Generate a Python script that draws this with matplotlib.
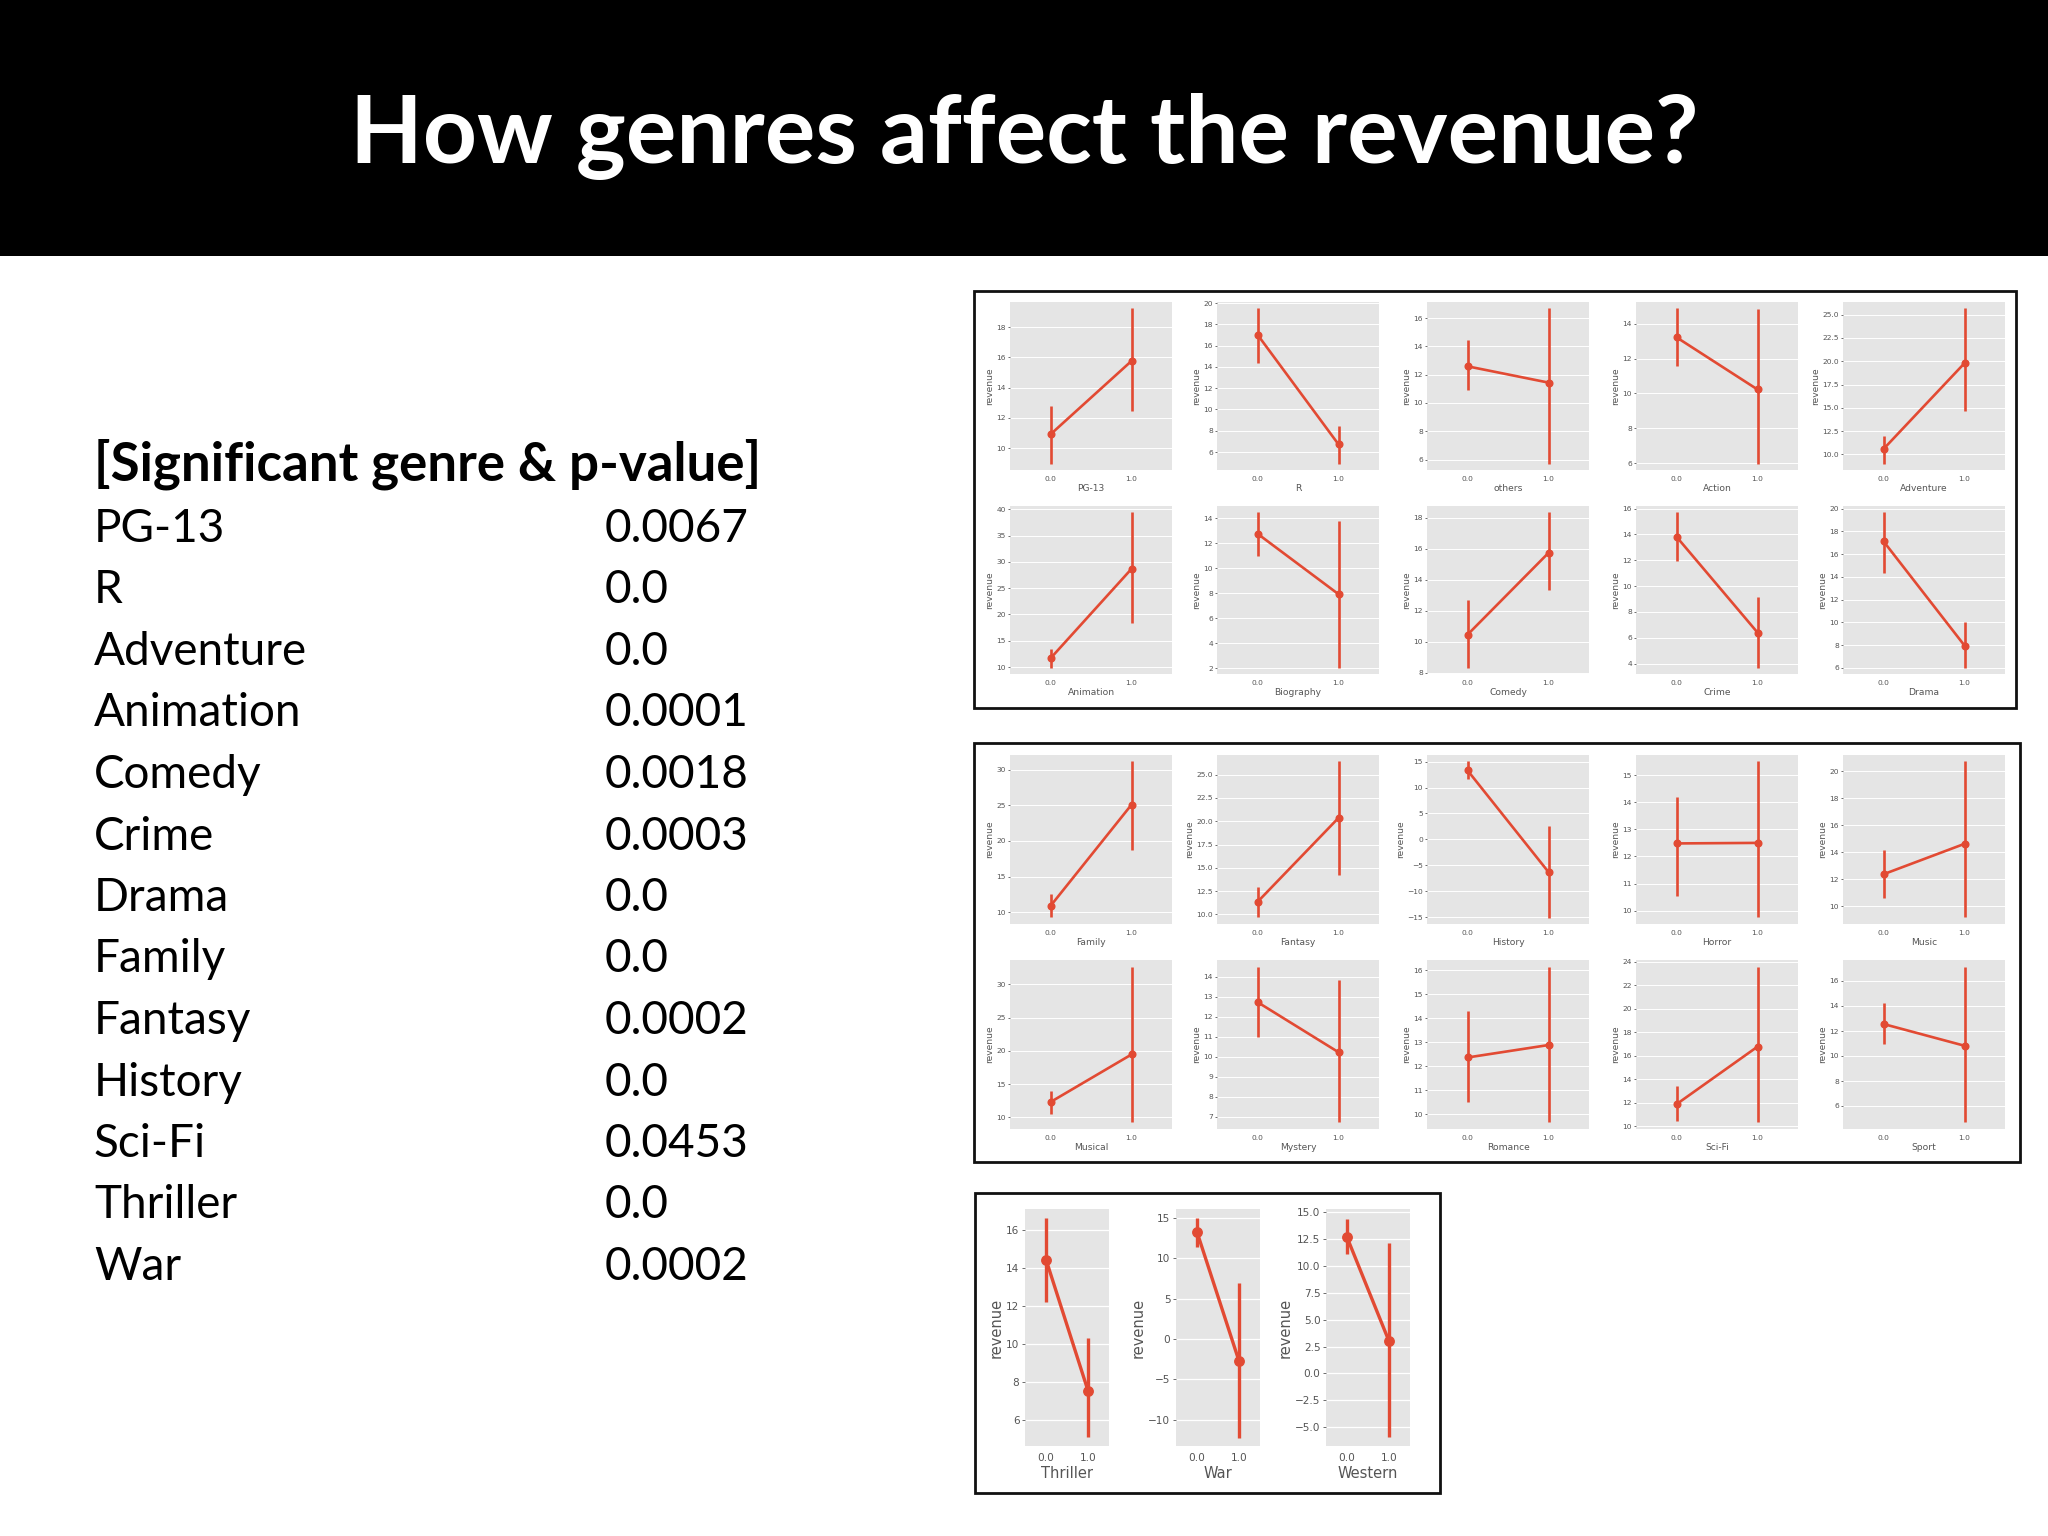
import matplotlib
matplotlib.use("Agg")
import matplotlib.pyplot as plt
from matplotlib.patches import Rectangle
from matplotlib.ticker import MultipleLocator

# ---------------- data ----------------
title = "How genres affect the revenue?"
table_header = "[Significant genre & p-value]"
sig_genres = ["PG-13", "R", "Adventure", "Animation", "Comedy", "Crime", "Drama",
              "Family", "Fantasy", "History", "Sci-Fi", "Thriller", "War"]
p_values = ["0.0067", "0.0", "0.0", "0.0001", "0.0018", "0.0003", "0.0",
            "0.0", "0.0002", "0.0", "0.0453", "0.0", "0.0002"]

genres = ["PG-13", "R", "others", "Action", "Adventure",
          "Animation", "Biography", "Comedy", "Crime", "Drama",
          "Family", "Fantasy", "History", "Horror", "Music",
          "Musical", "Mystery", "Romance", "Sci-Fi", "Sport",
          "Thriller", "War", "Western"]
mean_0 = [10.92, 17.03, 12.59, 13.23, 10.57, 11.65, 12.77, 10.45, 13.82, 17.13,
          10.89, 11.33, 13.32, 12.48, 12.37, 12.30, 12.73, 12.36, 11.86, 12.56,
          14.46, 13.23, 12.66]
ci0_low = [8.97, 14.38, 10.89, 11.57, 8.96, 9.81, 10.96, 8.30, 11.92, 14.37,
           9.30, 9.68, 11.58, 10.55, 10.59, 10.50, 10.97, 10.51, 10.42, 11.00,
           12.25, 11.35, 11.10]
ci0_high = [12.79, 19.53, 14.43, 14.92, 12.00, 13.42, 14.48, 12.71, 15.72, 19.68,
            12.62, 12.94, 15.13, 14.21, 14.17, 13.95, 14.50, 14.31, 13.42, 14.27,
            16.63, 14.92, 14.39]
mean_1 = [15.76, 6.72, 11.44, 10.23, 19.79, 28.67, 7.92, 15.74, 6.41, 7.97,
          25.09, 20.36, -6.32, 12.50, 14.62, 19.45, 10.23, 12.88, 16.76, 10.82,
          7.56, -2.72, 3.00]
ci1_low = [12.48, 4.88, 5.69, 5.94, 14.68, 18.30, 2.00, 13.36, 3.66, 6.00,
           18.77, 14.23, -15.10, 9.75, 9.19, 9.25, 6.73, 9.65, 10.31, 4.70,
           5.10, -12.17, -5.95]
ci1_high = [19.27, 8.44, 16.70, 14.84, 25.71, 39.40, 13.79, 18.37, 9.12, 10.00,
            31.23, 26.48, 2.58, 15.52, 20.74, 32.65, 13.83, 16.15, 23.58, 17.15,
            10.33, 6.97, 12.10]
x_tick_labels = ["0.0", "1.0"]

# ---------------- axis scales (per panel) ----------------
y_limits = [(8.57, 19.65), (4.31, 20.1), (5.27, 17.13), (5.6, 15.26), (8.32, 26.36),
            (8.67, 40.63), (1.52, 14.99), (7.91, 18.77), (3.2, 16.2), (5.47, 20.23),
            (8.36, 32.06), (8.96, 27.12), (-16.35, 16.29), (9.51, 15.74), (8.69, 21.19),
            (8.25, 33.65), (6.4, 14.83), (9.375, 16.43), (9.75, 24.14), (4.16, 17.68),
            (4.65, 17.12), (-13.22, 16.07), (-6.74, 15.28)]
y_steps = [2, 2, 2, 2, 2.5, 5, 2, 2, 2, 2, 5, 2.5, 5, 1, 2, 5, 1, 1, 2, 2, 2, 5, 2.5]

# ---------------- figure ----------------
W, H = 2048, 1536
fig = plt.figure(figsize=(W / 100, H / 100), dpi=100)
fig.patch.set_facecolor("white")


def frac_rect(x0, y0, x1, y1):
    return [x0 / W, 1 - y1 / H, (x1 - x0) / W, (y1 - y0) / H]


# header bar
fig.patches.append(Rectangle((0, 1 - 256 / H), 1, 256 / H, transform=fig.transFigure,
                             facecolor="black", edgecolor="none", zorder=0))
fig.text(0.5, 1 - 163 / H, title, color="white", fontsize=68, fontweight="bold",
         family="Lato", ha="center", va="baseline")

# left table
fig.text(94 / W, 1 - 481 / H, table_header, fontsize=38.1, fontweight="bold",
         family="Lato", ha="left", va="baseline", color="black")
for i, (g, p) in enumerate(zip(sig_genres, p_values)):
    yb = 542 + i * 61.5
    fig.text(94 / W, 1 - yb / H, g, fontsize=33, family="Lato", ha="left",
             va="baseline", color="black")
    fig.text(605 / W, 1 - yb / H, p, fontsize=33, family="Lato", ha="left",
             va="baseline", color="black")

# group frames
for (x0, y0, x1, y1) in [(974, 291, 2016, 708), (974, 743, 2020, 1162), (975, 1193, 1440, 1493)]:
    fig.patches.append(Rectangle((x0 / W, 1 - y1 / H), (x1 - x0) / W, (y1 - y0) / H,
                                 transform=fig.transFigure, facecolor="none",
                                 edgecolor="#111111", linewidth=2.0, zorder=1))

# panel geometry
rows = [(302, 470), (506, 674), (755, 924), (960, 1129)]
col_x = [1010, 1217, 1427, 1636, 1843]
panel_w = 162
rects = []
for (ya, yb) in rows:
    for cx in col_x:
        rects.append((cx, ya, cx + panel_w, yb))
for cx in [1025, 1176, 1326]:
    rects.append((cx, 1209, cx + 84, 1446))

red = "#E24A33"
for k, g in enumerate(genres):
    big = k >= 20
    ax = fig.add_axes(frac_rect(*rects[k]))
    ax.set_facecolor("#E5E5E5")
    for s in ax.spines.values():
        s.set_visible(False)
    lw = 2.4 if big else 1.9
    ms = 6.8 if big else 4.8
    tfs = 7.6 if big else 5.4
    lfs = 10.5 if big else 6.6
    ax.plot([0, 0], [ci0_low[k], ci0_high[k]], color=red, lw=lw, solid_capstyle="butt", zorder=3)
    ax.plot([1, 1], [ci1_low[k], ci1_high[k]], color=red, lw=lw, solid_capstyle="butt", zorder=3)
    ax.plot([0, 1], [mean_0[k], mean_1[k]], color=red, lw=lw, marker="o", ms=ms, zorder=4)
    ax.set_xlim(-0.5, 1.5)
    ax.set_ylim(*y_limits[k])
    ax.yaxis.set_major_locator(MultipleLocator(y_steps[k]))
    ax.set_xticks([0, 1])
    ax.set_xticklabels(x_tick_labels)
    ax.grid(axis="y", color="white", lw=0.9 if big else 0.7)
    ax.set_axisbelow(True)
    ax.tick_params(axis="both", labelsize=tfs, labelcolor="#555555", color="#555555",
                   length=2 if big else 1.5, width=0.6, pad=2 if big else 1.5)
    ax.tick_params(axis="x", length=0, pad=5 if big else 4)
    ax.set_xlabel(g, fontsize=lfs, color="#555555", labelpad=2 if big else 1.5)
    ax.set_ylabel("revenue", fontsize=lfs, color="#555555", labelpad=2 if big else 1.5)

fig.savefig("out.png", dpi=100)
